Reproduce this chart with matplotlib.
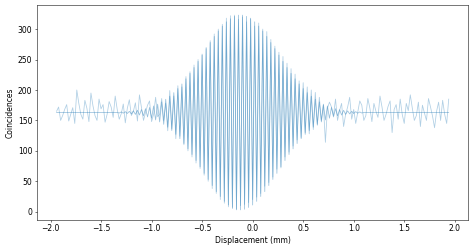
import numpy as np
import matplotlib
matplotlib.use("Agg")
import matplotlib.pyplot as plt

plt.rcParams["font.size"] = 11.5

# measured coincidences, one sample every 0.02 mm
counts = [
    # -1.94 .. -0.94 (flat, noisy)
    165, 172, 150, 158, 168, 176, 149, 160, 171, 145,
    200, 178, 160, 152, 183, 170, 148, 195, 174, 158,
    150, 185, 169, 176, 147, 160, 181, 172, 155, 190,
    168, 152, 161, 177, 146, 170, 184, 158, 165, 179,
    149, 192, 171, 150, 163, 175, 182, 148, 160, 188,
    156,
    # fringes
    160, 186, 150, 178, 133, 199, 136, 190, 120, 207,
    124, 205, 110, 222, 100, 230, 90, 241, 80, 250,
    71, 259, 60, 270, 50, 281, 38, 292, 30, 300,
    20, 308, 14, 318, 8, 322, 5, 323, 3, 316,
    10, 320, 12, 312, 15, 318, 20, 305, 24, 310,
    30, 300, 42, 296, 48, 283, 57, 272, 70, 262,
    72, 255, 90, 244, 98, 235, 108, 226, 118, 215,
    122, 212, 130, 205, 128, 200, 135, 196, 142, 188,
    150,
    # 0.70 .. 1.94 (flat, noisy)
    175, 114, 170, 180, 172, 158, 185, 150, 166, 178,
    140, 160, 172, 188, 152, 168, 145, 163, 182, 175,
    150, 158, 186, 170, 148, 178, 165, 155, 190, 172,
    150, 160, 173, 182, 130, 168, 176, 152, 185, 160,
    145, 178, 166, 192, 170, 150, 158, 180, 140, 175,
    162, 150, 186, 172, 157, 138, 165, 180, 150, 183,
    160, 145, 185,
]

# fitted curve at the same positions
fit_fringe = [
    162.2, 163.9, 161.9, 164.4, 161.4, 164.9, 160.7, 165.7, 159.9, 166.6,
    158.9, 167.8, 157.5, 169.3, 155.7, 171.3, 153.6, 173.7, 150.8, 176.7,
    147.6, 180.3, 143.6, 184.7, 138.9, 189.7, 133.4, 195.6, 127.1, 202.3,
    120.0, 209.9, 112.0, 218.3, 103.3, 227.3, 94.0, 236.9, 84.1, 247.0,
    73.8, 257.4, 63, 268, 53, 278, 43, 288, 33, 297,
    25, 305, 17, 312, 11, 317, 7, 321, 4, 323,
    3,
    323, 4, 321, 7, 317, 11, 312, 17, 305, 25,
    297, 33, 288, 43, 278, 53, 268, 63, 257.4, 73.8,
    247.0, 84.1, 236.9, 94.0, 227.3, 103.3, 218.3, 112.0, 209.9, 120.0,
    202.3, 127.1, 195.6, 133.4, 189.7, 138.9, 184.7, 143.6, 180.3, 147.6,
    176.7, 150.8, 173.7, 153.6, 171.3, 155.7, 169.3, 157.5, 167.8, 158.9,
    166.6, 159.9, 165.7, 160.7, 164.9, 161.4, 164.4, 161.9, 163.9, 162.2,
]
baseline = 163
fit = [baseline] * 31 + fit_fringe + [baseline] * 43

x_start, x_stop = -1.94, 1.94
x = np.linspace(x_start, x_stop, len(counts))

fig = plt.figure(figsize=(10, 5.255), dpi=47.4)
ax = fig.add_axes([0.078, 0.118, 0.910, 0.860])
ax.plot(x, counts, color="C0", alpha=0.35, lw=1.2)
ax.plot(x, fit, color="C0", alpha=0.45, lw=1.2)
ax.set_xlabel("Displacement (mm)")
ax.set_ylabel("Coincidences")
fig.savefig("out.png", dpi=47.4)
